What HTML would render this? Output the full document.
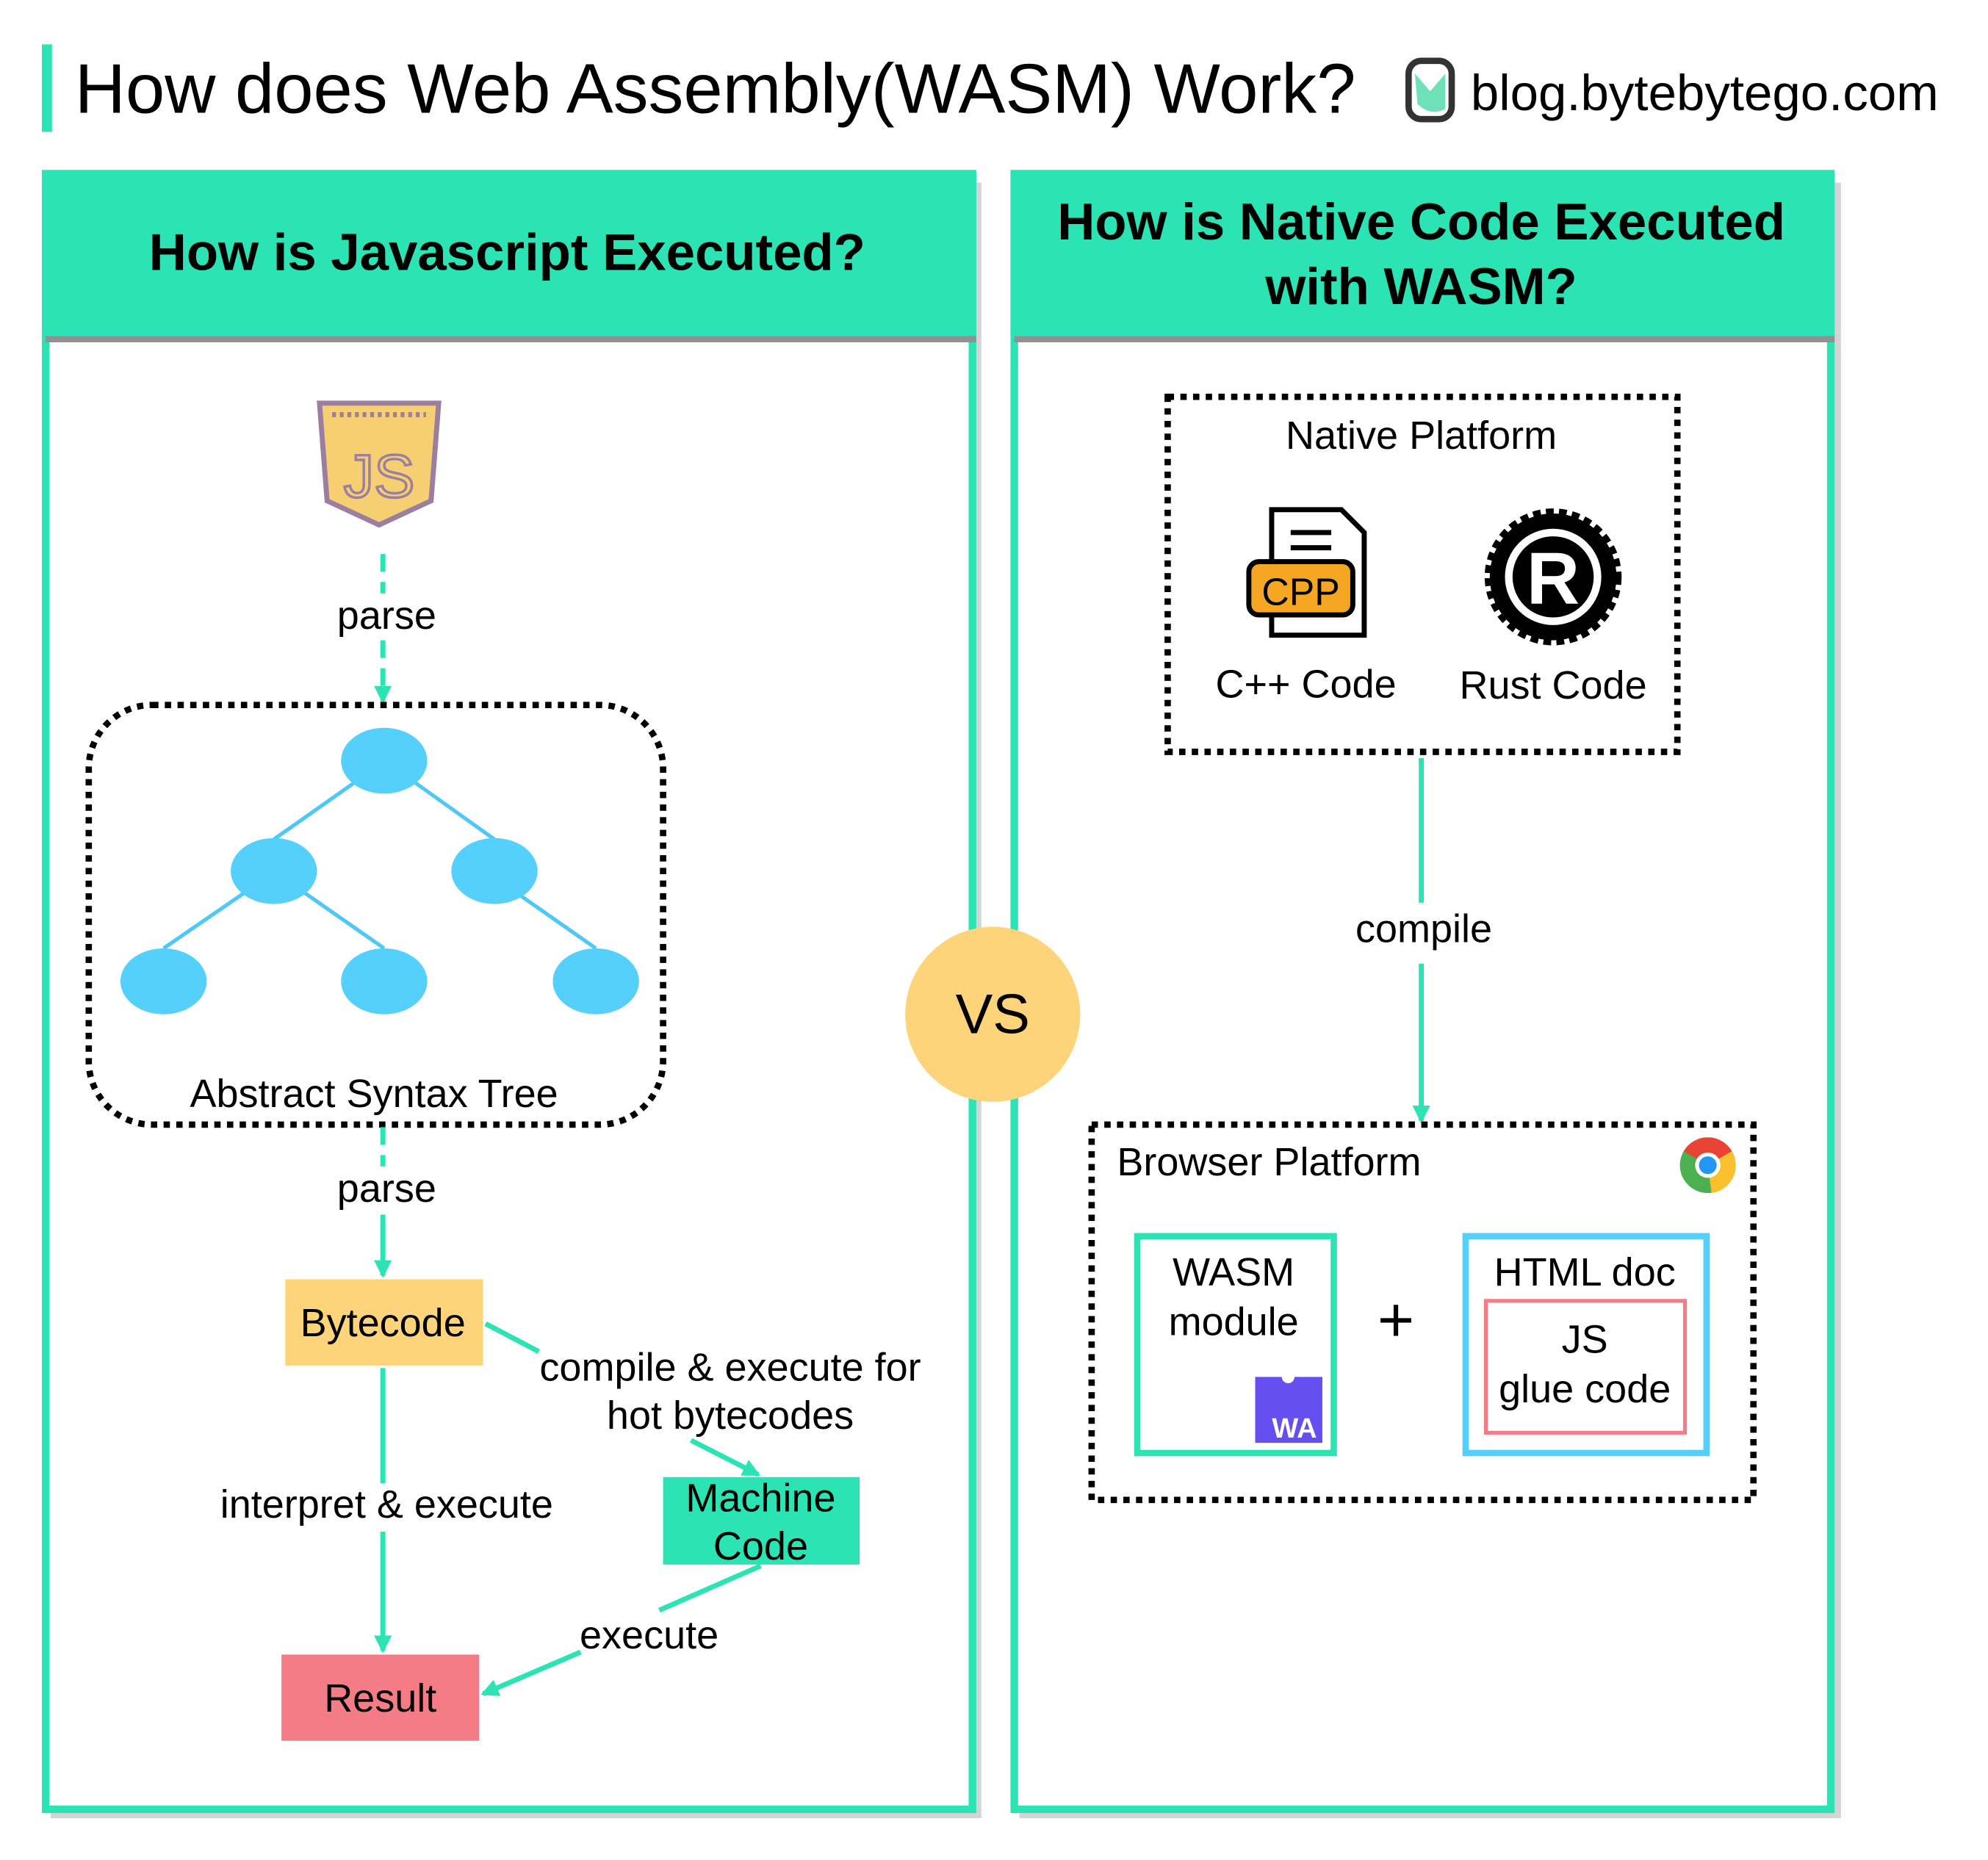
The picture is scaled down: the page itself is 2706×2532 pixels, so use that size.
<!DOCTYPE html>
<html><head><meta charset="utf-8"><style>
html,body{margin:0;padding:0;background:#fff;}
svg{display:block;}
text{font-family:"Liberation Sans",Arial,sans-serif;fill:#000;}
</style></head><body>
<svg width="2706" height="2532" viewBox="0 0 1568 1467" preserveAspectRatio="none" xmlns="http://www.w3.org/2000/svg">
<defs>
<marker id="ah" markerWidth="14" markerHeight="14" refX="12" refY="7" orient="auto" markerUnits="userSpaceOnUse">
<path d="M0,0 L14,7 L0,14 Z" fill="#2ce3b4"/></marker>
</defs>
<!-- title -->
<rect x="33" y="35" width="8" height="69" fill="#2ce3b4"/>
<text x="59" y="89" font-size="55.5">How does Web Assembly(WASM) Work?</text>
<rect x="1111" y="48" width="34" height="46" rx="10" fill="none" stroke="#333" stroke-width="5"/>
<path d="M1116,58 L1128,72 L1140,58 L1140,86 Q1128,92 1118,82 Z" fill="#6fe0b8"/>
<text x="1160" y="87" font-size="40">blog.bytebytego.com</text>

<!-- panels shadows -->
<rect x="40" y="144" width="734" height="1290" fill="#d4d4d4"/>
<rect x="804" y="144" width="648" height="1290" fill="#d4d4d4"/>
<!-- left panel -->
<rect x="36" y="137" width="731" height="1290" fill="#fff" stroke="#2ce3b4" stroke-width="6"/>
<rect x="33" y="137" width="737" height="128" fill="#2ce3b4"/>
<rect x="36" y="265" width="734" height="5" fill="#919191"/>
<text x="400" y="213" font-size="41" font-weight="bold" text-anchor="middle">How is Javascript Executed?</text>
<!-- right panel -->
<rect x="800" y="137" width="644" height="1290" fill="#fff" stroke="#2ce3b4" stroke-width="6"/>
<rect x="797" y="137" width="650" height="128" fill="#2ce3b4"/>
<rect x="800" y="265" width="647" height="5" fill="#919191"/>
<text x="1121" y="189" font-size="41" font-weight="bold" text-anchor="middle">How is Native Code Executed</text>
<text x="1121" y="240" font-size="41" font-weight="bold" text-anchor="middle">with WASM?</text>

<!-- JS icon -->
<path d="M252,318 L346,318 L340,395 L299,414 L258,395 Z" fill="#f6cf72" stroke="#9c7fa0" stroke-width="4"/>
<line x1="262" y1="327" x2="336" y2="327" stroke="#9c7fa0" stroke-width="4" stroke-dasharray="3,3"/>
<text x="299" y="392" font-size="48" text-anchor="middle" stroke="#9c7fa0" stroke-width="2" style="fill:none">JS</text>

<!-- parse arrow 1 -->
<line x1="302" y1="437" x2="302" y2="468" stroke="#2ce3b4" stroke-width="4" stroke-dasharray="14,8"/>
<line x1="302" y1="505" x2="302" y2="553" stroke="#2ce3b4" stroke-width="4" stroke-dasharray="14,8" marker-end="url(#ah)"/>
<text x="305" y="496" font-size="31.3" text-anchor="middle">parse</text>

<!-- AST -->
<rect x="70" y="556" width="453" height="331" rx="50" fill="none" stroke="#000" stroke-width="5" stroke-dasharray="5,5"/>
<g stroke="#4fc8f7" stroke-width="3">
<line x1="280" y1="617" x2="216" y2="662"/><line x1="327" y1="617" x2="390" y2="662"/>
<line x1="193" y1="704" x2="129" y2="748"/><line x1="240" y1="704" x2="303" y2="748"/>
<line x1="410" y1="706" x2="470" y2="748"/>
</g>
<g fill="#55cffc">
<ellipse cx="303" cy="600" rx="34" ry="26"/><ellipse cx="216" cy="687" rx="34" ry="26"/><ellipse cx="390" cy="687" rx="34" ry="26"/>
<ellipse cx="129" cy="774" rx="34" ry="26"/><ellipse cx="303" cy="774" rx="34" ry="26"/><ellipse cx="470" cy="774" rx="34" ry="26"/>
</g>
<text x="295" y="873" font-size="31.3" text-anchor="middle">Abstract Syntax Tree</text>

<!-- parse arrow 2 -->
<line x1="302" y1="889" x2="302" y2="920" stroke="#2ce3b4" stroke-width="4" stroke-dasharray="14,8"/>
<line x1="302" y1="958" x2="302" y2="1006" stroke="#2ce3b4" stroke-width="4" marker-end="url(#ah)"/>
<text x="305" y="948" font-size="31.3" text-anchor="middle">parse</text>

<!-- Bytecode -->
<rect x="225" y="1009" width="156" height="68" fill="#fdd47a"/>
<text x="302" y="1054" font-size="31.3" text-anchor="middle">Bytecode</text>
<line x1="302" y1="1079" x2="302" y2="1170" stroke="#2ce3b4" stroke-width="4"/>
<line x1="302" y1="1208" x2="302" y2="1302" stroke="#2ce3b4" stroke-width="4" marker-end="url(#ah)"/>
<text x="305" y="1197" font-size="31.3" text-anchor="middle">interpret &amp; execute</text>
<!-- Result -->
<rect x="222" y="1305" width="156" height="68" fill="#f47c86"/>
<text x="300" y="1350" font-size="31.3" text-anchor="middle">Result</text>

<!-- compile branch -->
<line x1="383" y1="1044" x2="425" y2="1066" stroke="#2ce3b4" stroke-width="4"/>
<text x="576" y="1089" font-size="31.3" text-anchor="middle">compile &amp; execute for</text>
<text x="576" y="1127" font-size="31.3" text-anchor="middle">hot bytecodes</text>
<line x1="545" y1="1136" x2="598" y2="1163" stroke="#2ce3b4" stroke-width="4" marker-end="url(#ah)"/>
<rect x="523" y="1165" width="155" height="69" fill="#2ce3b4"/>
<text x="600" y="1192" font-size="31.3" text-anchor="middle">Machine</text>
<text x="600" y="1230" font-size="31.3" text-anchor="middle">Code</text>
<line x1="600" y1="1235" x2="520" y2="1270" stroke="#2ce3b4" stroke-width="4"/>
<text x="512" y="1300" font-size="31.3" text-anchor="middle">execute</text>
<line x1="458" y1="1303" x2="381" y2="1336" stroke="#2ce3b4" stroke-width="4" marker-end="url(#ah)"/>

<!-- VS -->
<circle cx="783" cy="800" r="69" fill="#fdd47a"/>
<text x="783" y="815" font-size="44" text-anchor="middle">VS</text>

<!-- Native platform -->
<rect x="921" y="313" width="402" height="280" fill="none" stroke="#000" stroke-width="5" stroke-dasharray="5,5"/>
<text x="1121" y="354" font-size="31.3" text-anchor="middle">Native Platform</text>
<!-- CPP icon -->
<path d="M1003,402 L1058,402 L1076,420 L1076,501 L1003,501 Z" fill="#fff" stroke="#000" stroke-width="4"/>
<line x1="1018" y1="420" x2="1050" y2="420" stroke="#000" stroke-width="4"/>
<line x1="1018" y1="432" x2="1050" y2="432" stroke="#000" stroke-width="4"/>
<rect x="985" y="443" width="82" height="42" rx="8" fill="#f5a623" stroke="#000" stroke-width="4"/>
<text x="1026" y="477" font-size="30" text-anchor="middle">CPP</text>
<!-- Rust icon -->
<circle cx="1225" cy="455" r="50" fill="#000" stroke="#000" stroke-width="8" stroke-dasharray="6,4"/>
<circle cx="1225" cy="455" r="38" fill="#fff"/>
<circle cx="1225" cy="455" r="32" fill="#000"/>
<text x="1225" y="476" font-size="58" font-weight="bold" text-anchor="middle" style="fill:#fff" font-family="Liberation Serif">R</text>
<text x="1030" y="550" font-size="31.3" text-anchor="middle">C++ Code</text>
<text x="1225" y="551" font-size="31.3" text-anchor="middle">Rust Code</text>

<!-- compile arrow -->
<line x1="1121" y1="598" x2="1121" y2="712" stroke="#2ce3b4" stroke-width="4"/>
<line x1="1121" y1="760" x2="1121" y2="884" stroke="#2ce3b4" stroke-width="4" marker-end="url(#ah)"/>
<text x="1123" y="743" font-size="31.3" text-anchor="middle">compile</text>

<!-- Browser platform -->
<rect x="861" y="887" width="522" height="296" fill="none" stroke="#000" stroke-width="5" stroke-dasharray="5,5"/>
<text x="881" y="927" font-size="31.3">Browser Platform</text>
<circle cx="1347" cy="919" r="22" fill="#4caf50"/>
<path d="M1347,919 L1328,908 A22,22 0 0 1 1366,908 Z" fill="#ea4335"/>
<path d="M1347,919 L1366,908 A22,22 0 0 1 1350,941 Z" fill="#fbc02d"/>
<circle cx="1347" cy="919" r="10" fill="#fff"/>
<circle cx="1347" cy="919" r="7" fill="#2196f3"/>

<rect x="897" y="975" width="155" height="171" fill="none" stroke="#2ce3b4" stroke-width="5"/>
<text x="973" y="1014" font-size="31.3" text-anchor="middle">WASM</text>
<text x="973" y="1053" font-size="31.3" text-anchor="middle">module</text>
<rect x="990" y="1086" width="53" height="52" fill="#654ff0"/>
<circle cx="1016" cy="1086" r="5" fill="#fff"/>
<text x="1021" y="1134" font-size="22" font-weight="bold" text-anchor="middle" style="fill:#fff">WA</text>

<text x="1101" y="1058" font-size="50" text-anchor="middle">+</text>

<rect x="1156" y="975" width="190" height="171" fill="none" stroke="#55cffc" stroke-width="5"/>
<text x="1250" y="1014" font-size="31.3" text-anchor="middle">HTML doc</text>
<rect x="1172" y="1026" width="157" height="104" fill="none" stroke="#f47c86" stroke-width="3"/>
<text x="1250" y="1067" font-size="31.3" text-anchor="middle">JS</text>
<text x="1250" y="1106" font-size="31.3" text-anchor="middle">glue code</text>
</svg>
</body></html>
